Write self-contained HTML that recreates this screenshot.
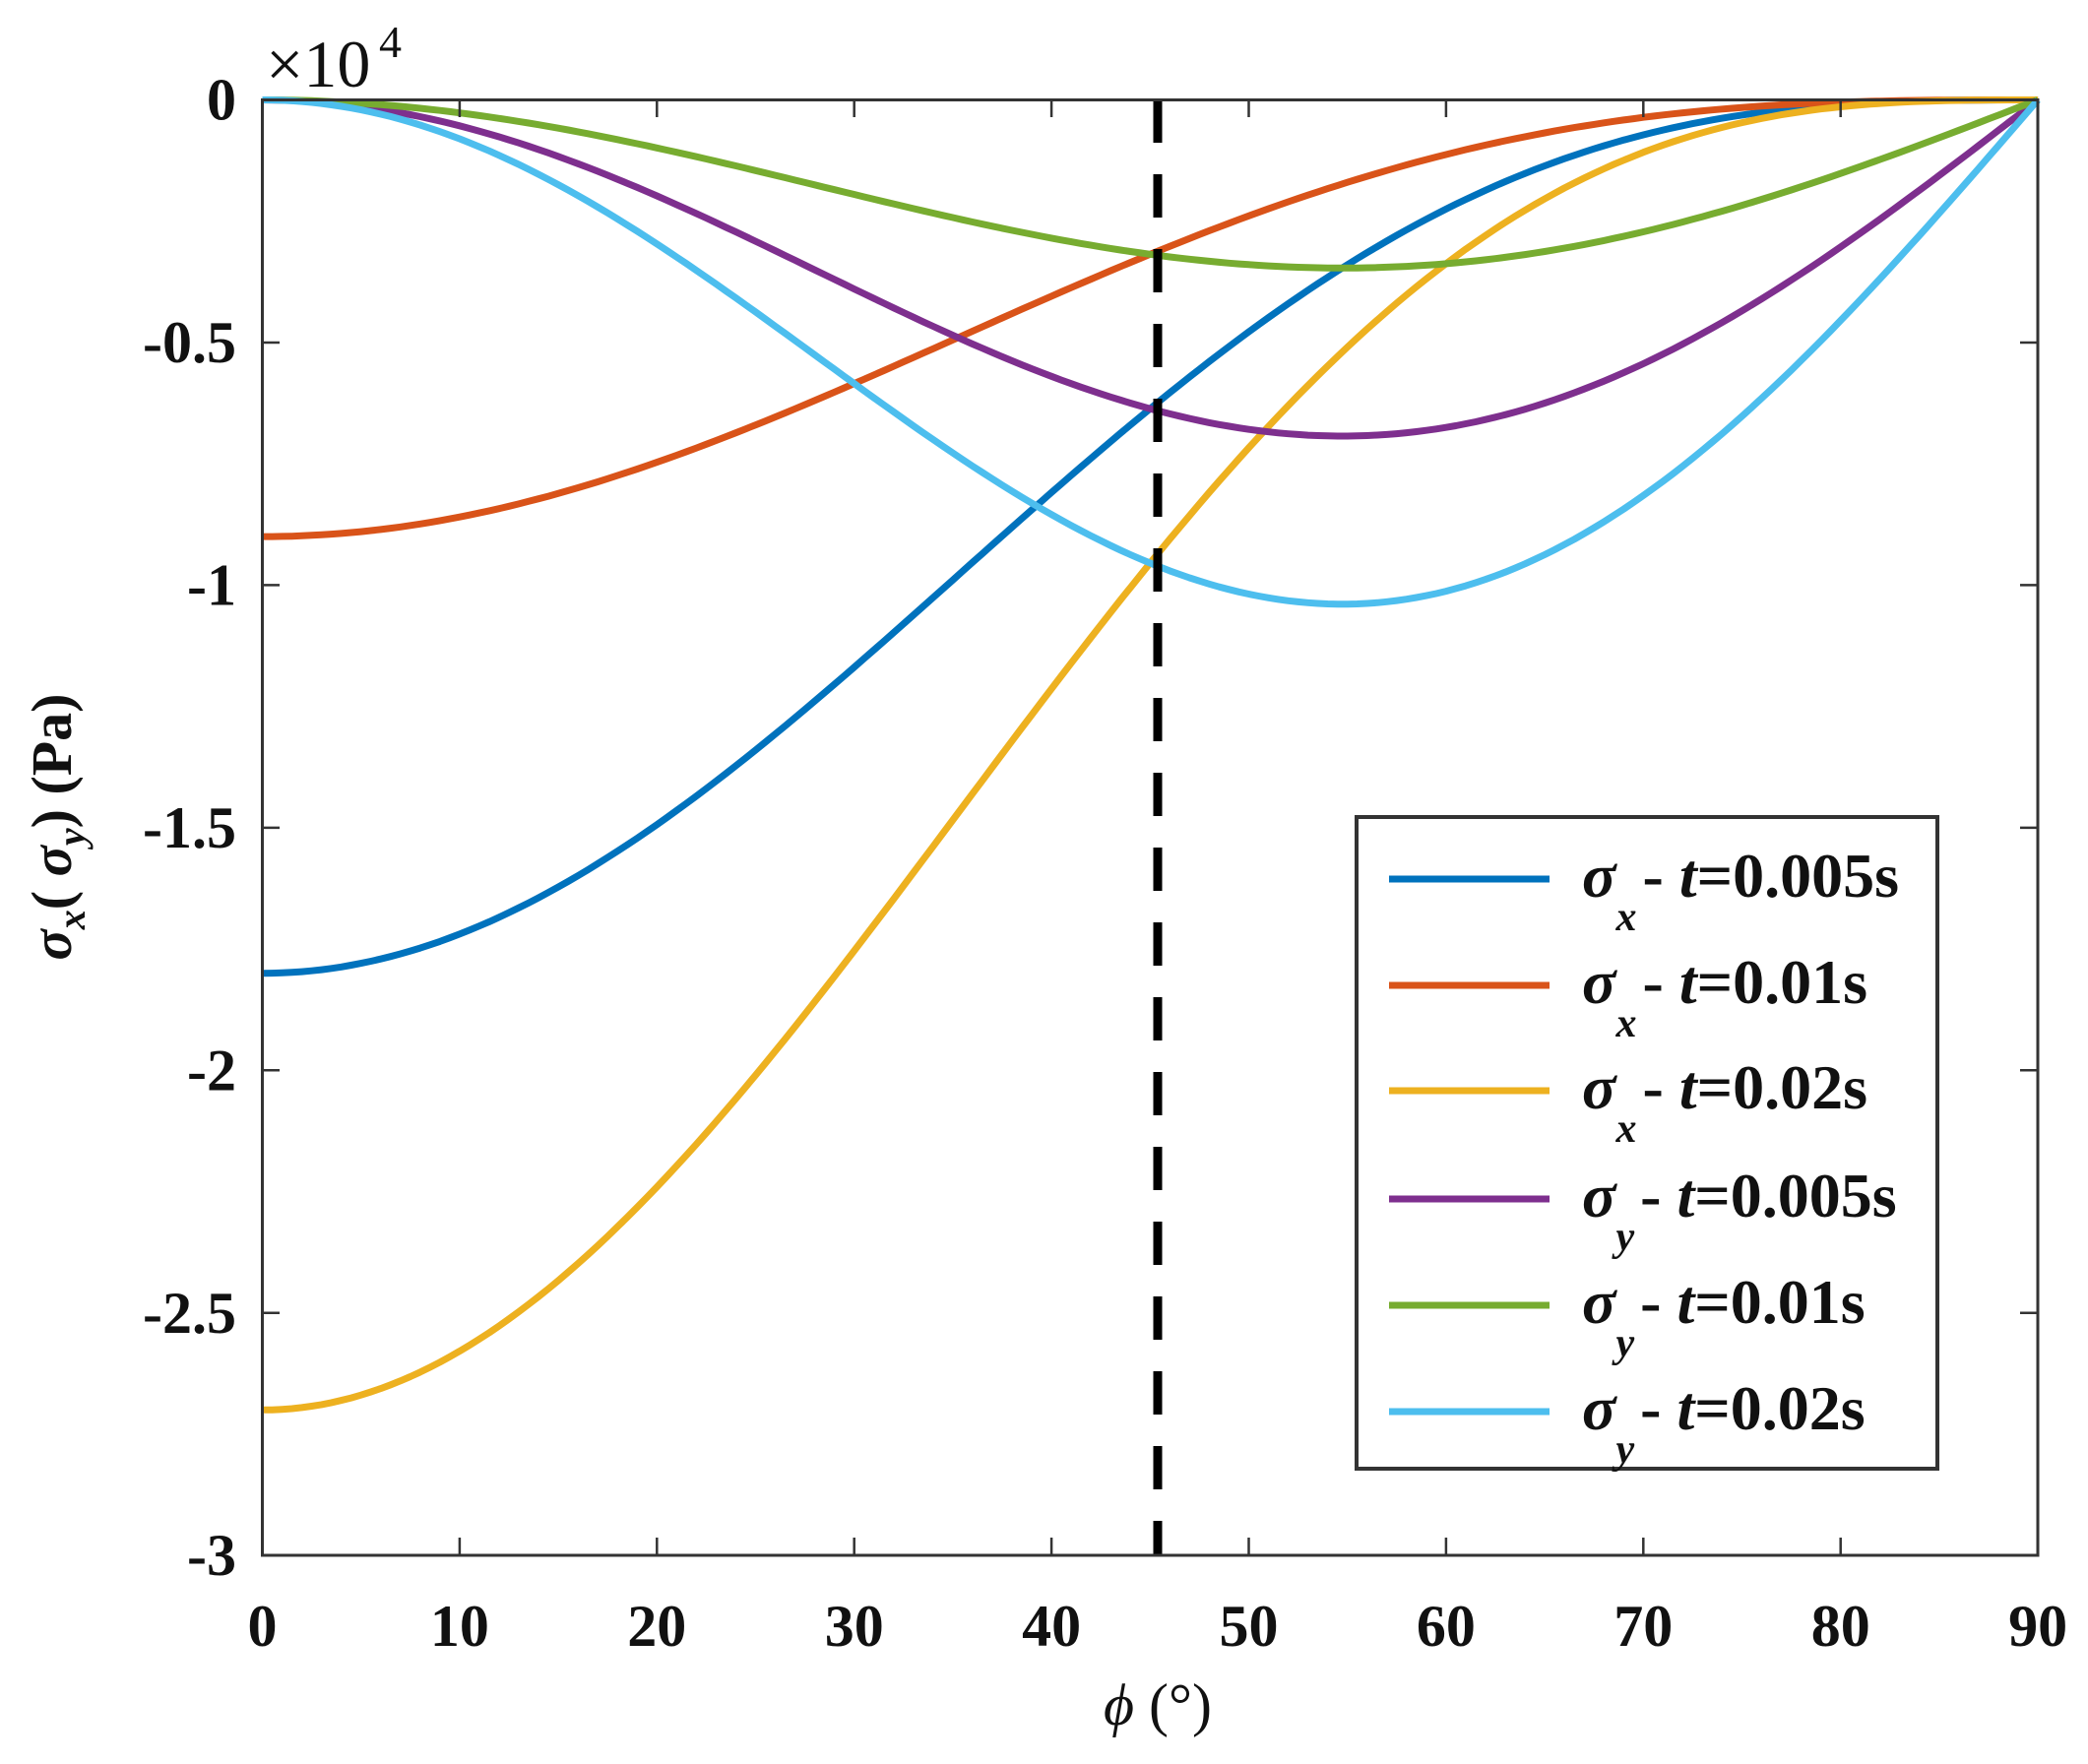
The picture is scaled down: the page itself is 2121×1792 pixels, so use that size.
<!DOCTYPE html>
<html><head><meta charset="utf-8">
<style>
html,body{margin:0;padding:0;background:#fff;}
svg{display:block;}
text{font-family:"Liberation Serif",serif;font-weight:bold;fill:#111;}
</style></head>
<body>
<svg id="s" width="2121" height="1792" viewBox="0 0 2121 1792" xmlns="http://www.w3.org/2000/svg">
<rect width="2121" height="1792" fill="#fff"/>
<g id="curves" fill="none" stroke-width="7" stroke-linejoin="round"></g>
<line x1="1176" y1="101" x2="1176" y2="1580" stroke="#000" stroke-width="9" stroke-dasharray="44 32"/>
<rect x="266.5" y="101.5" width="1803.5" height="1478.5" fill="none" stroke="#333" stroke-width="3"/>
<g id="ticks" stroke="#333" stroke-width="2.5"></g>
<g id="labels" font-size="60"></g>
<text x="270" y="88" font-size="68" style="font-weight:normal">×10</text>
<text x="385" y="58" font-size="46" style="font-weight:normal">4</text>
<text x="1176" y="1752" font-size="60" text-anchor="middle" style="font-weight:normal"><tspan font-style="italic">ϕ</tspan> (°)</text>
<text transform="translate(72,840) rotate(-90)" font-size="58" text-anchor="middle"><tspan font-style="italic">σ</tspan><tspan font-style="italic" font-size="40" dy="14">x</tspan><tspan dy="-14">( </tspan><tspan font-style="italic">σ</tspan><tspan font-style="italic" font-size="40" dy="14">y</tspan><tspan dy="-14">) (Pa)</tspan></text>
<rect x="1378" y="830" width="590" height="662" fill="#fff" stroke="#333" stroke-width="4"/>
<g id="legend"></g>
</svg>
<script>
const X=p=>266.5+p*20.04, Y=v=>101.5-v*492.9;
const r=Math.PI/180;
const series=[
 ['#0072BD',p=>-1.8*Math.pow(Math.cos(p*r),3),'x','0.005s'],
 ['#D95319',p=>-0.9*Math.pow(Math.cos(p*r),3),'x','0.01s'],
 ['#EDB120',p=>-2.7*Math.pow(Math.cos(p*r),3),'x','0.02s'],
 ['#7E2F8E',p=>-1.8*Math.pow(Math.sin(p*r),2)*Math.cos(p*r),'y','0.005s'],
 ['#77AC30',p=>-0.9*Math.pow(Math.sin(p*r),2)*Math.cos(p*r),'y','0.01s'],
 ['#4DBEEE',p=>-2.7*Math.pow(Math.sin(p*r),2)*Math.cos(p*r),'y','0.02s']];
const NS='http://www.w3.org/2000/svg';
function el(t,a,parent,txt){const e=document.createElementNS(NS,t);for(const k in a)e.setAttribute(k,a[k]);if(txt!=null)e.textContent=txt;parent.appendChild(e);return e;}
const cg=document.getElementById('curves');
series.forEach(s=>{let d='';for(let p=0;p<=90;p+=0.5){d+=(p?'L':'M')+X(p).toFixed(1)+' '+Y(s[1](p)).toFixed(1);}el('path',{d:d,stroke:s[0]},cg);});
const tg=document.getElementById('ticks'),lg=document.getElementById('labels');
for(let p=0;p<=90;p+=10){const x=X(p);el('line',{x1:x,y1:1580,x2:x,y2:1562},tg);el('line',{x1:x,y1:101.5,x2:x,y2:119},tg);el('text',{x:x,y:1672,'text-anchor':'middle'},lg,String(p));}
const yl=['0','-0.5','-1','-1.5','-2','-2.5','-3'];
for(let i=0;i<=6;i++){const y=Y(-i*0.5);el('line',{x1:266.5,y1:y,x2:284,y2:y},tg);el('line',{x1:2070,y1:y,x2:2052,y2:y},tg);el('text',{x:240,y:y+20,'text-anchor':'end'},lg,yl[i]);}
const L=document.getElementById('legend');
const rows=[893,1001,1108,1218,1326,1434];
series.forEach((s,i)=>{const y=rows[i];el('line',{x1:1411,y1:y,x2:1574,y2:y,stroke:s[0],'stroke-width':7},L);
 const t=el('text',{x:1607,y:y+18,'font-size':64},L);
 el('tspan',{'font-style':'italic'},t,'σ');
 el('tspan',{'font-style':'italic','font-size':42,dy:34},t,s[2]);
 el('tspan',{dy:-34,dx:6},t,'- ');
 el('tspan',{'font-style':'italic'},t,'t');
 el('tspan',{},t,'='+s[3]);
});
</script>
</body></html>
